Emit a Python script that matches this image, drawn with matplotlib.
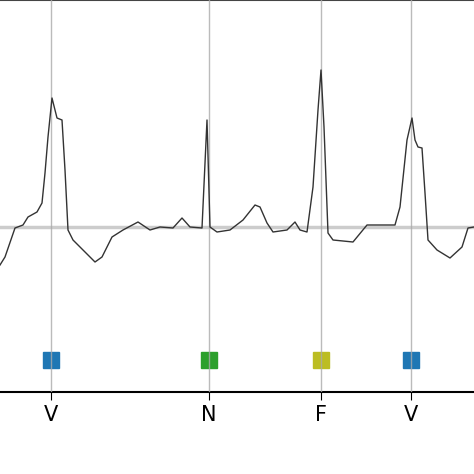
import numpy as np
import matplotlib
matplotlib.use("Agg")
import matplotlib.pyplot as plt

# signal trace (time, amplitude)
t = [0, 5, 15, 23, 28, 37, 42, 45, 48, 52, 55, 57, 62, 65, 68, 73, 95, 102, 112, 123,
     138, 150, 160, 173, 182, 190, 202, 207, 210, 217, 230, 243, 255, 260, 267, 273,
     287, 295, 300, 307, 313, 318, 321, 324, 328, 333, 353, 367, 395, 400, 407, 412,
     415, 418, 422, 425, 428, 437, 450, 462, 468, 474]
py = [265, 257, 228, 225, 217, 212, 203, 173, 137, 98, 110, 118, 120, 170, 230, 240,
      262, 257, 237, 230, 222, 230, 227, 228, 218, 227, 228, 120, 227, 232, 230, 220,
      205, 207, 223, 232, 230, 222, 230, 232, 187, 110, 70, 127, 233, 240, 242, 225,
      225, 207, 140, 118, 140, 147, 148, 193, 240, 250, 258, 247, 228, 227]
signal = [(227 - p) / 100 for p in py]

beat_pos = [51, 209, 321, 411]
beat_labels = ["V", "N", "F", "V"]
beat_colors = {"V": "#1f77b4", "N": "#2ca02c", "F": "#bcbd22"}

fig = plt.figure(figsize=(4.74, 4.74), dpi=100)
ax = fig.add_axes([0, 82 / 474, 1, 392 / 474])

ax.axhline(0, color="#cccccc", linewidth=2.5, zorder=1)
for x, lab in zip(beat_pos, beat_labels):
    ax.plot(x, -1.33, marker="s", markersize=11, color=beat_colors[lab], zorder=2)
for x in beat_pos:
    ax.axvline(x, color="#aaaaaa", linewidth=1, alpha=0.8, zorder=3)
ax.plot(t, signal, color="#333333", linewidth=1, zorder=4)

ax.set_xlim(0, 474)
ax.set_ylim(-1.65, 2.27)
ax.set_xticks(beat_pos)
ax.set_xticklabels(beat_labels, fontsize=15)
ax.set_yticks([])
ax.spines["left"].set_visible(False)
ax.spines["right"].set_visible(False)
ax.spines["top"].set_linewidth(1.5)
ax.spines["top"].set_color("#444444")
ax.spines["bottom"].set_linewidth(1.5)
ax.tick_params(axis="x", length=6)

fig.savefig("out.png", dpi=100)
